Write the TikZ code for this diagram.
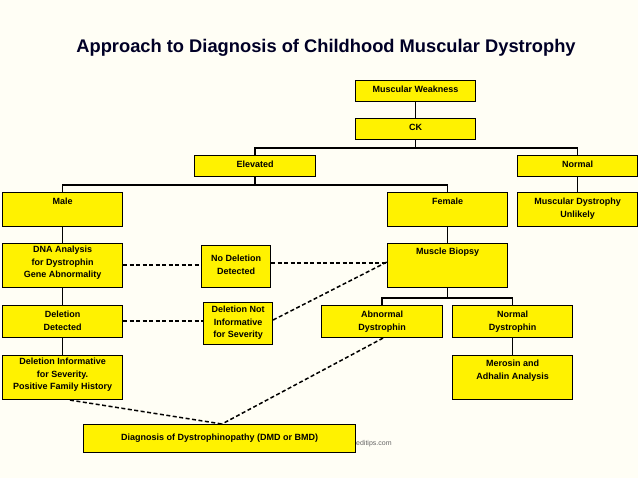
\documentclass[tikz,border=0pt]{standalone}
\usepackage{fontspec}
\setmainfont{Liberation Sans}
\begin{document}
\begin{tikzpicture}[x=1pt,y=-1pt,
  bx/.style={draw=black,line width=1.1pt,fill=yellow,anchor=north west,inner sep=0pt},
  tree/.style={draw=black,line width=1.4pt},
  dsh/.style={draw=black,line width=1.5pt,dash pattern=on 4pt off 2.5pt},
  tx/.style={anchor=north,align=center,inner sep=0pt,font=\bfseries\fontsize{9}{12.5}\selectfont}]
\fill[yellow!4!white] (0,0) rectangle (638,478);
\useasboundingbox (0,0) rectangle (638,478);
\node[font=\bfseries\fontsize{18.3}{21}\selectfont,text=black!85!blue] (title) at (326,48) {Approach to Diagnosis of Childhood Muscular Dystrophy};
\newcommand{\bxn}[5]{\node[bx,minimum width=#4-#2,minimum height=#5-#3] (#1) at (#2,#3) {};}
\bxn{mw}{355}{80}{475}{101}
\bxn{ck}{355}{118}{475}{139}
\bxn{el}{194}{155}{315}{176}
\bxn{no}{517}{155}{637}{176}
\bxn{ma}{2}{192}{122}{226}
\bxn{fe}{387}{192}{507}{226}
\bxn{un}{517}{192}{637}{226}
\bxn{dna}{2}{243}{122}{287}
\bxn{nd}{201}{245}{270}{287}
\bxn{mb}{387}{243}{507}{287}
\bxn{dd}{2}{305}{122}{337}
\bxn{dni}{203}{302}{272}{344}
\bxn{ad}{321}{305}{442}{337}
\bxn{ndy}{452}{305}{572}{337}
\bxn{di}{2}{355}{122}{399}
\bxn{me}{452}{355}{572}{399}
\bxn{dg}{83}{424}{355}{452}
\node[tx] (tmw) at ([yshift=-6]mw.north) {Muscular Weakness};
\node[tx] (tck) at ([yshift=-6]ck.north) {CK};
\node[tx] (tel) at ([yshift=-6]el.north) {Elevated};
\node[tx] (tno) at ([yshift=-6]no.north) {Normal};
\node[tx] (tma) at ([yshift=-6]ma.north) {Male};
\node[tx] (tfe) at ([yshift=-6]fe.north) {Female};
\node[tx] (tun) at ([yshift=-6]un.north) {Muscular Dystrophy\\Unlikely};
\node[tx] (tdna) at ([yshift=-3]dna.north) {DNA Analysis\\for Dystrophin\\Gene Abnormality};
\node[tx] (tnd) at ([yshift=-10]nd.north) {No Deletion\\Detected};
\node[tx] (tmb) at ([yshift=-5]mb.north) {Muscle Biopsy};
\node[tx] (tdd) at ([yshift=-6]dd.north) {Deletion\\Detected};
\node[tx] (tdni) at ([yshift=-4]dni.north) {Deletion Not\\Informative\\for Severity};
\node[tx] (tad) at ([yshift=-6]ad.north) {Abnormal\\Dystrophin};
\node[tx] (tndy) at ([yshift=-6]ndy.north) {Normal\\Dystrophin};
\node[tx] (tdi) at ([yshift=-3]di.north) {Deletion Informative\\for Severity.\\Positive Family History};
\node[tx] (tme) at ([yshift=-5]me.north) {Merosin and\\Adhalin Analysis};
\node[tx] (tdg) at ([yshift=-10]dg.north) {Diagnosis of Dystrophinopathy (DMD or BMD)};
\node[anchor=west,inner sep=0pt,text=black!60,font=\fontsize{7}{8}\selectfont] (wm) at (356,444) {editips.com};
\draw[tree] (mw) -- (ck);
\draw[tree] (ck.south) -- ++(0,8) -| (el.north);
\draw[tree] (ck.south) -- ++(0,8) -| (no.north);
\draw[tree] (el.south) -- ++(0,8) -| (ma.north);
\draw[tree] (el.south) -- ++(0,8) -| (fe.north);
\draw[tree] (no) -- (un);
\draw[tree] (ma) -- (dna);
\draw[tree] (fe) -- (mb);
\draw[tree] (dna) -- (dd);
\draw[tree] (dd) -- (di);
\draw[tree] (mb.south) -- ++(0,10) -| (ad.north);
\draw[tree] (mb.south) -- ++(0,10) -| (ndy.north);
\draw[tree] (ndy) -- (me);
\draw[dsh] (dna.east |- 0,265) -- (nd.west |- 0,265);
\draw[dsh] (nd.east |- 0,263) -- (mb.west |- 0,263);
\draw[dsh] (dd.east |- 0,321) -- (dni.west |- 0,321);
\draw[dsh] (dni.east |- 0,320) -- (mb.west |- 0,262);
\coordinate (meet) at (222,424);
\draw[dsh] (ad.south west) ++(62,0) -- (meet);
\draw[dsh] (di.south west) ++(68,0) -- (meet);
\end{tikzpicture}
\end{document}
